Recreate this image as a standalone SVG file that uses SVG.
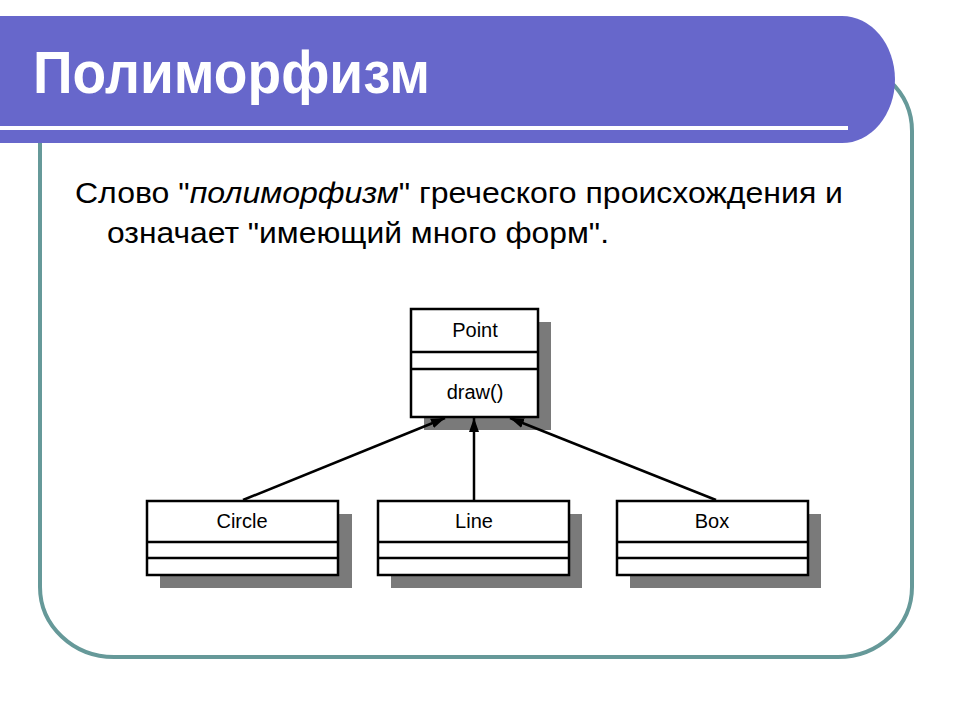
<svg xmlns="http://www.w3.org/2000/svg" width="960" height="720" viewBox="0 0 960 720">
<style>
.frame{fill:#ffffff;stroke:#669999;stroke-width:4}
.bar{fill:#6767CB}
.title{font-family:"Liberation Sans",Arial,sans-serif;font-weight:bold;font-size:60px;fill:#ffffff}
.body{font-family:"Liberation Sans",Arial,sans-serif;font-size:29px;fill:#000000}
.shadow{fill:#7a7a7a}
.box{fill:#ffffff;stroke:#000000;stroke-width:2.5}
.sep{stroke:#000000;stroke-width:2.5}
.lbl{font-family:"Liberation Sans",Arial,sans-serif;font-size:20px;fill:#000000;text-anchor:middle}
.conn{stroke:#000000;stroke-width:2.5;fill:none;marker-end:url(#arr)}
</style>
<defs>
<marker id="arr" viewBox="0 0 14 10" refX="14" refY="5" markerWidth="14" markerHeight="10" markerUnits="userSpaceOnUse" orient="auto">
<path d="M0,0 L14,5 L0,10 Z" fill="#000000"/>
</marker>
</defs>
<rect width="960" height="720" fill="#ffffff"/>
<rect class="frame" x="40" y="61" width="872" height="596" rx="74" ry="70"/>
<path class="bar" d="M0,16 H842 A53,63.5 0 0 1 842,143 H0 Z"/>
<rect x="0" y="126" width="848" height="4" fill="#ffffff"/>
<text class="title" x="33" y="93" textLength="397" lengthAdjust="spacingAndGlyphs">Полиморфизм</text>
<text class="body" x="75" y="203" textLength="768" lengthAdjust="spacingAndGlyphs">Слово "<tspan font-style="italic">полиморфизм</tspan>" греческого происхождения и</text>
<text class="body" x="107" y="243" textLength="502" lengthAdjust="spacingAndGlyphs">означает "имеющий много форм".</text>
<g id="point">
<rect class="shadow" x="424" y="322" width="127" height="108"/>
<rect class="box" x="411" y="309" width="127" height="108"/>
<line class="sep" x1="411" y1="352" x2="538" y2="352"/>
<line class="sep" x1="411" y1="369" x2="538" y2="369"/>
<text class="lbl" x="475" y="337">Point</text>
<text class="lbl" x="475" y="399">draw()</text>
</g>
<g id="circle">
<rect class="shadow" x="160" y="514" width="192" height="74"/>
<rect class="box" x="147" y="501" width="191" height="74"/>
<line class="sep" x1="147" y1="542" x2="338" y2="542"/>
<line class="sep" x1="147" y1="558" x2="338" y2="558"/>
<text class="lbl" x="242" y="528">Circle</text>
</g>
<g id="line">
<rect class="shadow" x="391" y="514" width="191" height="74"/>
<rect class="box" x="378" y="501" width="191" height="74"/>
<line class="sep" x1="378" y1="542" x2="569" y2="542"/>
<line class="sep" x1="378" y1="558" x2="569" y2="558"/>
<text class="lbl" x="474" y="528">Line</text>
</g>
<g id="box">
<rect class="shadow" x="630" y="514" width="191" height="74"/>
<rect class="box" x="617" y="501" width="191" height="74"/>
<line class="sep" x1="617" y1="542" x2="808" y2="542"/>
<line class="sep" x1="617" y1="558" x2="808" y2="558"/>
<text class="lbl" x="712" y="528">Box</text>
</g>
<g id="connectors">
<line class="conn" x1="243" y1="500" x2="445" y2="418"/>
<line class="conn" x1="474" y1="500" x2="474" y2="418"/>
<line class="conn" x1="716" y1="500" x2="510" y2="418"/>
</g>
</svg>
